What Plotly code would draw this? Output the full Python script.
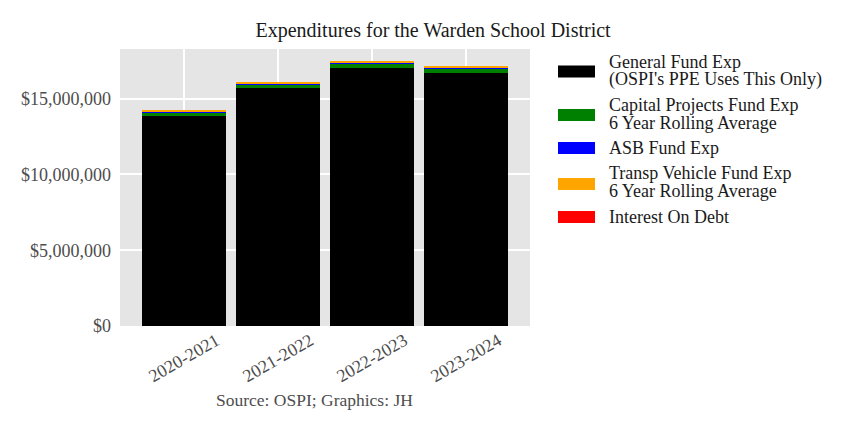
import plotly.graph_objects as go

# school years
years = ["2020-2021", "2021-2022", "2022-2023", "2023-2024"]

# expenditures in dollars
general_fund = [13860000, 15710000, 17030000, 16700000]
capital_projects = [200000, 200000, 260000, 280000]
asb_fund = [70000, 70000, 110000, 110000]
transp_vehicle = [70000, 70000, 90000, 90000]
interest_debt = [0, 0, 0, 0]

names = [["General Fund Exp", "(OSPI's PPE Uses This Only)"],
         ["Capital Projects Fund Exp", "6 Year Rolling Average"],
         ["ASB Fund Exp"],
         ["Transp Vehicle Fund Exp", "6 Year Rolling Average"],
         ["Interest On Debt"]]
colors = ["black", "green", "blue", "orange", "red"]
series = [general_fund, capital_projects, asb_fund, transp_vehicle, interest_debt]

FONT = "Liberation Serif, Times New Roman, serif"

fig = go.Figure()
for name, col, vals in zip(names, colors, series):
    fig.add_trace(go.Bar(x=years, y=vals, name=" ".join(name),
                         marker=dict(color=col, line=dict(width=0)), showlegend=False))

# plot area in pixels: x 120..530, y 49..326
def py(p):
    return (326 - p) / 277.0

def px(p):
    return (p - 120) / 410.0

# ggplot-style legend drawn by hand
swatch_y = [71.5, 115, 148, 184, 217]
line_y = [[62, 79], [105, 123], [148], [173, 191], [217]]
for name, col, yc, ly in zip(names, colors, swatch_y, line_y):
    fig.add_shape(type="rect", xref="paper", yref="paper",
                  x0=px(558), x1=px(595), y0=py(yc + 6), y1=py(yc - 6),
                  fillcolor=col, line=dict(width=0))
    for txt, yy in zip(name, ly):
        fig.add_annotation(text=txt, xref="paper", yref="paper", x=px(607), y=py(yy),
                           xanchor="left", yanchor="middle", align="left", showarrow=False,
                           font=dict(family=FONT, size=18, color="#1a1a1a"))

# rotated x labels, centred under each bar like ggplot
for yr in years:
    fig.add_annotation(text=yr, xref="x", yref="paper", x=yr, y=py(358),
                       xanchor="center", yanchor="middle", textangle=-30, showarrow=False,
                       font=dict(family=FONT, size=18, color="#4d4d4d"))

fig.add_annotation(text="Source: OSPI; Graphics: JH", xref="paper", yref="paper",
                   x=px(314), y=py(400), xanchor="center", yanchor="middle", showarrow=False,
                   font=dict(family=FONT, size=17.5, color="#4d4d4d"))

fig.update_layout(
    width=864, height=432,
    margin=dict(l=120, r=334, t=49, b=106),
    paper_bgcolor="white", plot_bgcolor="#e5e5e5",
    barmode="stack", bargap=0.1,
    font=dict(family=FONT, size=18, color="#4d4d4d"),
    title=dict(text="Expenditures for the Warden School District", x=px(325.5), xanchor="center",
               y=1 - 30 / 432.0, yanchor="middle", font=dict(family=FONT, size=20, color="#1a1a1a")),
    xaxis=dict(range=[-0.68, 3.68], showticklabels=False, showgrid=True, gridcolor="white",
               gridwidth=1.5, ticks="", zeroline=False),
    yaxis=dict(range=[0, 18280000], tickvals=[0, 5000000, 10000000, 15000000], tickformat="$,.0f",
               showgrid=True, gridcolor="white", gridwidth=1.5, ticks="", zeroline=False,
               ticklabelstandoff=8, tickfont=dict(size=18, color="#4d4d4d")),
    showlegend=False,
)

fig.write_html("out.html", config={"displayModeBar": False},
               post_script="document.body.style.margin='0';")
